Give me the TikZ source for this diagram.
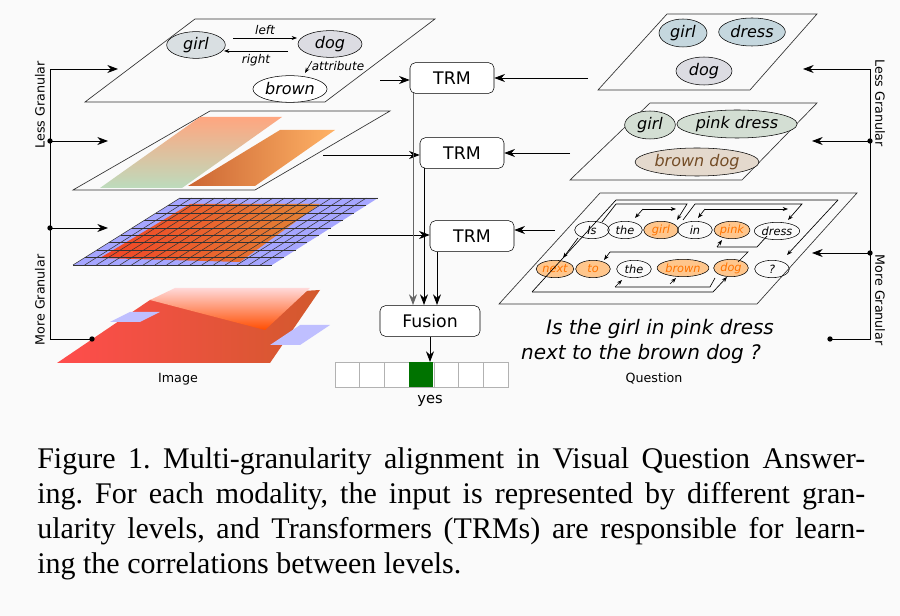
\documentclass[tikz,border=0pt]{standalone}
\usepackage{fontspec}
\setmainfont{Liberation Serif}
\setsansfont{DejaVu Sans}
\usetikzlibrary{arrows.meta,shapes.geometric}
\begin{document}
\frenchspacing
\begin{tikzpicture}[x=0.75pt,y=-0.75pt,
  big/.style={-{Stealth[length=8pt,width=6pt]},line width=0.6pt},
  sm/.style={-{Stealth[length=4pt,width=3pt]},line width=0.5pt},
  trm/.style={draw,rounded corners=4pt,minimum width=63pt,minimum height=23pt,font=\sffamily\fontsize{13}{13}\selectfont,fill=white},
  plane/.style={draw=black!80,line width=0.5pt},
  ell/.style={ellipse,draw,inner sep=1pt,font=\sffamily\itshape\fontsize{12}{12}\selectfont},
  wd/.style={ellipse,draw,inner sep=0.5pt,minimum width=26pt,minimum height=13pt,font=\sffamily\itshape\fontsize{8.5}{8.5}\selectfont},
  hw/.style={wd,fill=orange!45,text=orange!90!red},
  lab/.style={font=\sffamily\fontsize{9.5}{9.5}\selectfont}]
\fill[black!2] (0,0) rectangle (900,616);
\useasboundingbox (0,0) rectangle (900,616);
% ---------- left planes
\draw[plane] (85,102)--(195,19)--(435,19)--(325,102)--cycle;
\node[ell,fill=cyan!15!gray!30,minimum width=44pt,minimum height=20pt] (girlL) at (196,45) {girl};
\node[ell,fill=blue!10!gray!25,minimum width=48pt,minimum height=20pt] (dogL) at (330,44) {dog};
\node[ell,fill=white,minimum width=46pt,minimum height=20pt] (brownL) at (290,89) {brown};
\coordinate (la) at (233,38); \coordinate (lb) at (297,38);
\coordinate (ra) at (288,51); \coordinate (rb) at (224,51);
\draw[sm] (la)--(lb) node[midway,above=-1pt,font=\sffamily\itshape\fontsize{9}{9}\selectfont]{left};
\draw[sm] (ra)--(rb) node[midway,below=-1pt,font=\sffamily\itshape\fontsize{9}{9}\selectfont]{right};
\coordinate (at1) at (312,61); \coordinate (at2) at (305,73);
\draw[sm] (at1)--(at2);
\node[font=\sffamily\itshape\fontsize{9}{9}\selectfont] (attr) at (338,66) {attribute};
% second plane: region crops
\draw[plane] (73,190)--(210,111)--(390,111)--(255,190)--cycle;
\shade[left color=red!40!orange!50,right color=green!30!gray!40,shading angle=0] (100,188)--(200,117)--(282,117)--(182,188)--cycle;
\shade[left color=brown!80!red,right color=orange!60!white] (188,186)--(280,130)--(335,130)--(255,186)--cycle;
% third plane: grid
\fill[blue!35] (73,265)--(180,198)--(378,198)--(272,265)--cycle;
\shade[left color=red!60!orange,right color=orange!70!brown,opacity=0.85] (100,258)--(190,204)--(320,204)--(240,262)--cycle;
\foreach \i in {0,...,16}{\draw[black!80,line width=0.4pt] ({73+\i*199/17},265)--({180+\i*198/17},198);}
\foreach \j in {0,...,9}{\draw[black!80,line width=0.4pt] ({73+\j*107/9},{265-\j*67/9})--({272+\j*106/9},{265-\j*67/9});}
% fourth plane: image
\shade[left color=red!60!pink,right color=brown!70!red] (57,363)--(150,300)--(320,290)--(270,363)--cycle;
\shade[top color=pink!60,bottom color=red!40!orange] (150,300)--(175,288)--(310,288)--(265,330)--cycle;
\fill[blue!25] (110,322)--(130,312)--(160,312)--(140,322)--cycle;
\fill[blue!25] (270,345)--(300,325)--(330,325)--(300,345)--cycle;
% ---------- left bracket
\coordinate (lt) at (50,69); \coordinate (lm1) at (50,141); \coordinate (lm2) at (50,228); \coordinate (lbt) at (50,339);
\coordinate (ld) at (92,339);
\draw[line width=0.6pt] (ld)--(lbt)--(lt);
\draw[big] (lt)--(118,69);
\draw[big] (lm1)--(108,141);
\draw[big] (lm2)--(108,228);
\fill (lm1) circle (2pt); \fill (lm2) circle (2pt); \fill (ld) circle (2pt);
\node[lab,rotate=90] (lg) at (40,105) {Less Granular};
\node[lab,rotate=90] (mg) at (40,300) {More Granular};
% ---------- TRMs
\node[trm] (t1) at (452,78) {TRM};
\node[trm] (t2) at (462,153) {TRM};
\node[trm] (t3) at (472,236) {TRM};
\node[trm,minimum width=75pt] (fu) at (430,321) {Fusion};
\coordinate (i1) at (380,80); \coordinate (i2) at (323,155); \coordinate (i3) at (328,235);
\draw[big] (i1)--(t1.west|-i1);
\draw[big] (i2)--(t2.west|-i2);
\draw[big] (i3)--(t3.west|-i3);
\coordinate (q1) at (588,78); \coordinate (q2) at (570,153); \coordinate (q3) at (555,230);
\draw[big] (q1)--(t1.east|-q1);
\draw[big] (q2)--(t2.east|-q2);
\draw[big] (q3)--(t3.east|-q3);
\draw[big,black!60] (413,93)--(413,305);
\draw[big] (424,168)--(424,305);
\draw[big] (437,252)--(437,305);
% answer
\foreach \k in {0,...,6}{\draw[black!30,fill=white] ({335+\k*24.7},362) rectangle ({335+(\k+1)*24.7},387);}
\fill[green!45!black] (409,362) rectangle (433,387);
\draw[big] (fu.south-|430,0)--(430,362);
\node[lab,font=\sffamily\fontsize{11}{11}\selectfont] (yes) at (430,401) {yes};
\node[lab] (img) at (178,379) {Image};
\node[lab] (qst) at (654,379) {Question};
% ---------- right planes
\draw[plane] (598,90)--(667,14)--(817,14)--(750,90)--cycle;
\node[ell,fill=cyan!30!gray!40,minimum width=36pt,minimum height=21pt] (g1) at (683,33) {girl};
\node[ell,fill=cyan!30!gray!40,minimum width=50pt,minimum height=21pt] (d1) at (752,32) {dress};
\node[ell,fill=blue!10!gray!25,minimum width=42pt,minimum height=21pt] (o1) at (704,71) {dog};
\draw[plane] (570,180)--(650,103)--(817,103)--(742,180)--cycle;
\node[ell,fill=green!15!gray!30,minimum width=38pt,minimum height=21pt] (g2) at (650,125) {girl};
\node[ell,fill=green!15!gray!30,minimum width=80pt,minimum height=21pt] (p2) at (737,124) {pink dress};
\node[ell,fill=orange!30!gray!30,minimum width=80pt,minimum height=21pt,text=brown!60!black] (b2) at (697,162) {brown dog};
\draw[plane] (499,304)--(600,193)--(857,193)--(757,304)--cycle;
\node[wd] (w1) at (592,230) {Is};
\node[wd] (w2) at (625,230) {the};
\node[hw] (w3) at (661,230) {girl};
\node[wd] (w4) at (695,230) {in};
\node[hw] (w5) at (732,230) {pink};
\node[wd,minimum width=34pt] (w6) at (777,231) {dress};
\node[hw] (v1) at (555,269) {next};
\node[hw] (v2) at (593,269) {to};
\node[wd] (v3) at (634,269) {the};
\node[hw,minimum width=34pt] (v4) at (683,268) {brown};
\node[hw] (v5) at (731,268) {dog};
\node[wd] (v6) at (772,269) {?};
\draw[line width=0.5pt] (532,292)--(616,200)--(838,200);
\draw[sm] (838,200)--(787,255);
\draw[sm] (532,292)--(713,292)--(727,277);
\draw[sm] (578,238)--(563,258);
\draw[sm] (602,222)--(616,204)--(687,204)--(677,220);
\draw[sm] (643,209)--(676,209);
\draw[sm] (643,209)--(635,218);
\draw[sm] (683,220)--(695,204)--(802,204)--(788,220);
\draw[sm] (705,209)--(788,209);
\draw[sm] (705,209)--(698,218);
\draw[line width=0.5pt] (767,236)--(757,247)--(717,247);
\draw[sm] (717,247)--(722,240);
\draw[line width=0.5pt] (610,252)--(748,252)--(738,262);
\draw[sm] (610,252)--(604,260);
\draw[line width=0.5pt] (715,278)--(710,287)--(615,287);
\draw[sm] (615,287)--(622,280);
\draw[sm] (670,284)--(676,278);
% right bracket
\coordinate (rt) at (870,69); \coordinate (rm1) at (870,141); \coordinate (rm2) at (870,253); \coordinate (rbt) at (870,339);
\coordinate (rd) at (830,339);
\draw[line width=0.6pt] (rd)--(rbt)--(rt);
\draw[big] (rt)--(803,69);
\draw[big] (rm1)--(812,141);
\draw[big] (rm2)--(812,253);
\fill (rm1) circle (2pt); \fill (rm2) circle (2pt); \fill (rd) circle (2pt);
\node[lab,rotate=-90] (rlg) at (880,103) {Less Granular};
\node[lab,rotate=-90] (rmg) at (880,300) {More Granular};
\node[font=\sffamily\itshape\fontsize{15}{15}\selectfont] (qt1) at (660,329) {Is the girl in pink dress};
\node[font=\sffamily\itshape\fontsize{15}{15}\selectfont] (qt2) at (641,354) {next to the brown dog ?};
% ---------- caption
\node[anchor=north west,inner sep=0pt,align=left,font=\fontsize{22.5}{26.3}\selectfont] (cap) at (37,447) {%
\makebox[621pt][s]{Figure 1. Multi-granularity alignment in Visual Question Answer-}\\
\makebox[621pt][s]{ing. For each modality, the input is represented by different gran-}\\
\makebox[621pt][s]{ularity levels, and Transformers (TRMs) are responsible for learn-}\\
ing the correlations between levels.};
\end{tikzpicture}
\end{document}
